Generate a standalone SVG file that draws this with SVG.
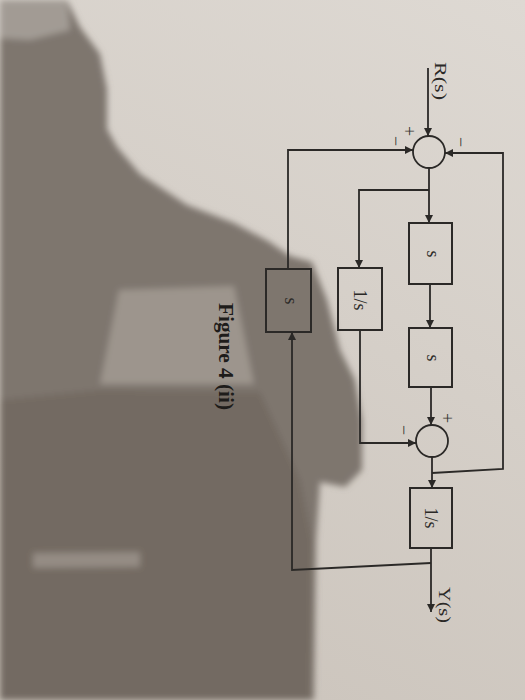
<svg xmlns="http://www.w3.org/2000/svg" width="525" height="700" viewBox="0 0 525 700">
  <defs>
    <linearGradient id="paper" x1="1" y1="0" x2="0.6" y2="1">
      <stop offset="0" stop-color="#ded9d3"/>
      <stop offset="1" stop-color="#cdc6be"/>
    </linearGradient>
    <filter id="soft" x="-10%" y="-10%" width="120%" height="120%">
      <feGaussianBlur stdDeviation="3"/>
    </filter>
    <marker id="arr" viewBox="0 0 10 10" refX="10" refY="5" markerWidth="9" markerHeight="8" markerUnits="userSpaceOnUse" orient="auto">
      <path d="M0,0 L10,5 L0,10 z" fill="#2b2927"/>
    </marker>
    <style>
      .ln{fill:none;stroke:#2b2927;stroke-width:1.8}
      .blk{fill:none;stroke:#2b2927;stroke-width:2}
      .sum{fill:none;stroke:#2b2927;stroke-width:1.8}
      .lbl{font-family:"Liberation Serif",serif;font-size:18px;fill:#2b2927}
      .io{font-family:"Liberation Serif",serif;font-size:17px;fill:#2b2927}
      .sg{font-family:"Liberation Serif",serif;font-size:18px;fill:#3a3835}
      .cap{font-family:"Liberation Serif",serif;font-size:20px;font-weight:bold;fill:#1e1c1a}
    </style>
  </defs>

  <!-- photo background -->
  <rect width="525" height="700" fill="url(#paper)"/>
  <g filter="url(#soft)">
    <path d="M0,0 H67 L80,27 L100,54 L107,89 L107,129 L117,147 L140,174 L187,205 L234,223 L268,241 L290,256 L312,262 L327,300 L340,350 L355,380 L362,420 L362,470 L345,487 L320,482 L316,540 L314,700 H0 Z" fill="#7e766e"/>
    <path d="M0,400 L100,390 L260,392 L300,480 L312,540 L310,700 H0 Z" fill="#736a62"/>
    <path d="M0,0 H67 L70,30 L30,40 L0,38 Z" fill="#a29b94"/>
    <path d="M119,290 L234,286 L254,384 L100,384 Z" fill="#9d958d"/>
    <path d="M33,553 L140,552 L140,567 L33,568 Z" fill="#948c84"/>
  </g>

  <!-- connectors -->
  <g id="connectors">
    <path class="ln" d="M428,68 V136" marker-end="url(#arr)"/>
    <path class="ln" d="M429,168 V223" marker-end="url(#arr)"/>
    <path class="ln" d="M429,190 H359 V268" marker-end="url(#arr)"/>
    <path class="ln" d="M430,284 V328" marker-end="url(#arr)"/>
    <path class="ln" d="M431,387 V425" marker-end="url(#arr)"/>
    <path class="ln" d="M360,330 V443 H416" marker-end="url(#arr)"/>
    <path class="ln" d="M432,457 V488" marker-end="url(#arr)"/>
    <path class="ln" d="M432,473 L503,469 V153 H445" marker-end="url(#arr)"/>
    <path class="ln" d="M431,548 V612" marker-end="url(#arr)"/>
    <path class="ln" d="M431,563 L292,570 V332" marker-end="url(#arr)"/>
    <path class="ln" d="M288,269 V150 H413" marker-end="url(#arr)"/>
  </g>

  <!-- nodes -->
  <g id="sum1">
    <circle class="sum" cx="429" cy="152" r="16"/>
    <text class="sg" transform="translate(409,131) rotate(90)" text-anchor="middle" y="6">+</text>
    <text class="sg" transform="translate(395,141) rotate(90)" text-anchor="middle" y="5">−</text>
    <text class="sg" transform="translate(460,142) rotate(90)" text-anchor="middle" y="5">−</text>
  </g>
  <g id="sum2">
    <circle class="sum" cx="432" cy="441" r="16"/>
    <text class="sg" transform="translate(447,418) rotate(90)" text-anchor="middle" y="6">+</text>
    <text class="sg" transform="translate(403,430) rotate(90)" text-anchor="middle" y="5">−</text>
  </g>
  <g id="blockS1">
    <rect class="blk" x="409" y="223" width="43" height="61"/>
    <text class="lbl" transform="translate(431,254) rotate(90)" text-anchor="middle" y="4">s</text>
  </g>
  <g id="blockS2">
    <rect class="blk" x="409" y="328" width="43" height="59"/>
    <text class="lbl" transform="translate(431,358) rotate(90)" text-anchor="middle" y="4">s</text>
  </g>
  <g id="blockInvS1">
    <rect class="blk" x="338" y="268" width="44" height="62"/>
    <text class="lbl" transform="translate(360,300) rotate(90)" text-anchor="middle" y="6">1/s</text>
  </g>
  <g id="blockSfb">
    <rect class="blk" x="266" y="269" width="45" height="63"/>
    <text class="lbl" transform="translate(289,301) rotate(90)" text-anchor="middle" y="4">s</text>
  </g>
  <g id="blockInvS2">
    <rect class="blk" x="410" y="488" width="42" height="60"/>
    <text class="lbl" transform="translate(431,518) rotate(90)" text-anchor="middle" y="6">1/s</text>
  </g>
  <g id="input">
    <text class="io" transform="translate(435,62) rotate(90)" textLength="38" lengthAdjust="spacingAndGlyphs">R(s)</text>
  </g>
  <g id="output">
    <text class="io" transform="translate(439,587) rotate(90)" textLength="36" lengthAdjust="spacingAndGlyphs">Y(s)</text>
  </g>
  <g id="caption">
    <text class="cap" transform="translate(219,303) rotate(90)" textLength="107" lengthAdjust="spacingAndGlyphs">Figure 4 (ii)</text>
  </g>
</svg>
